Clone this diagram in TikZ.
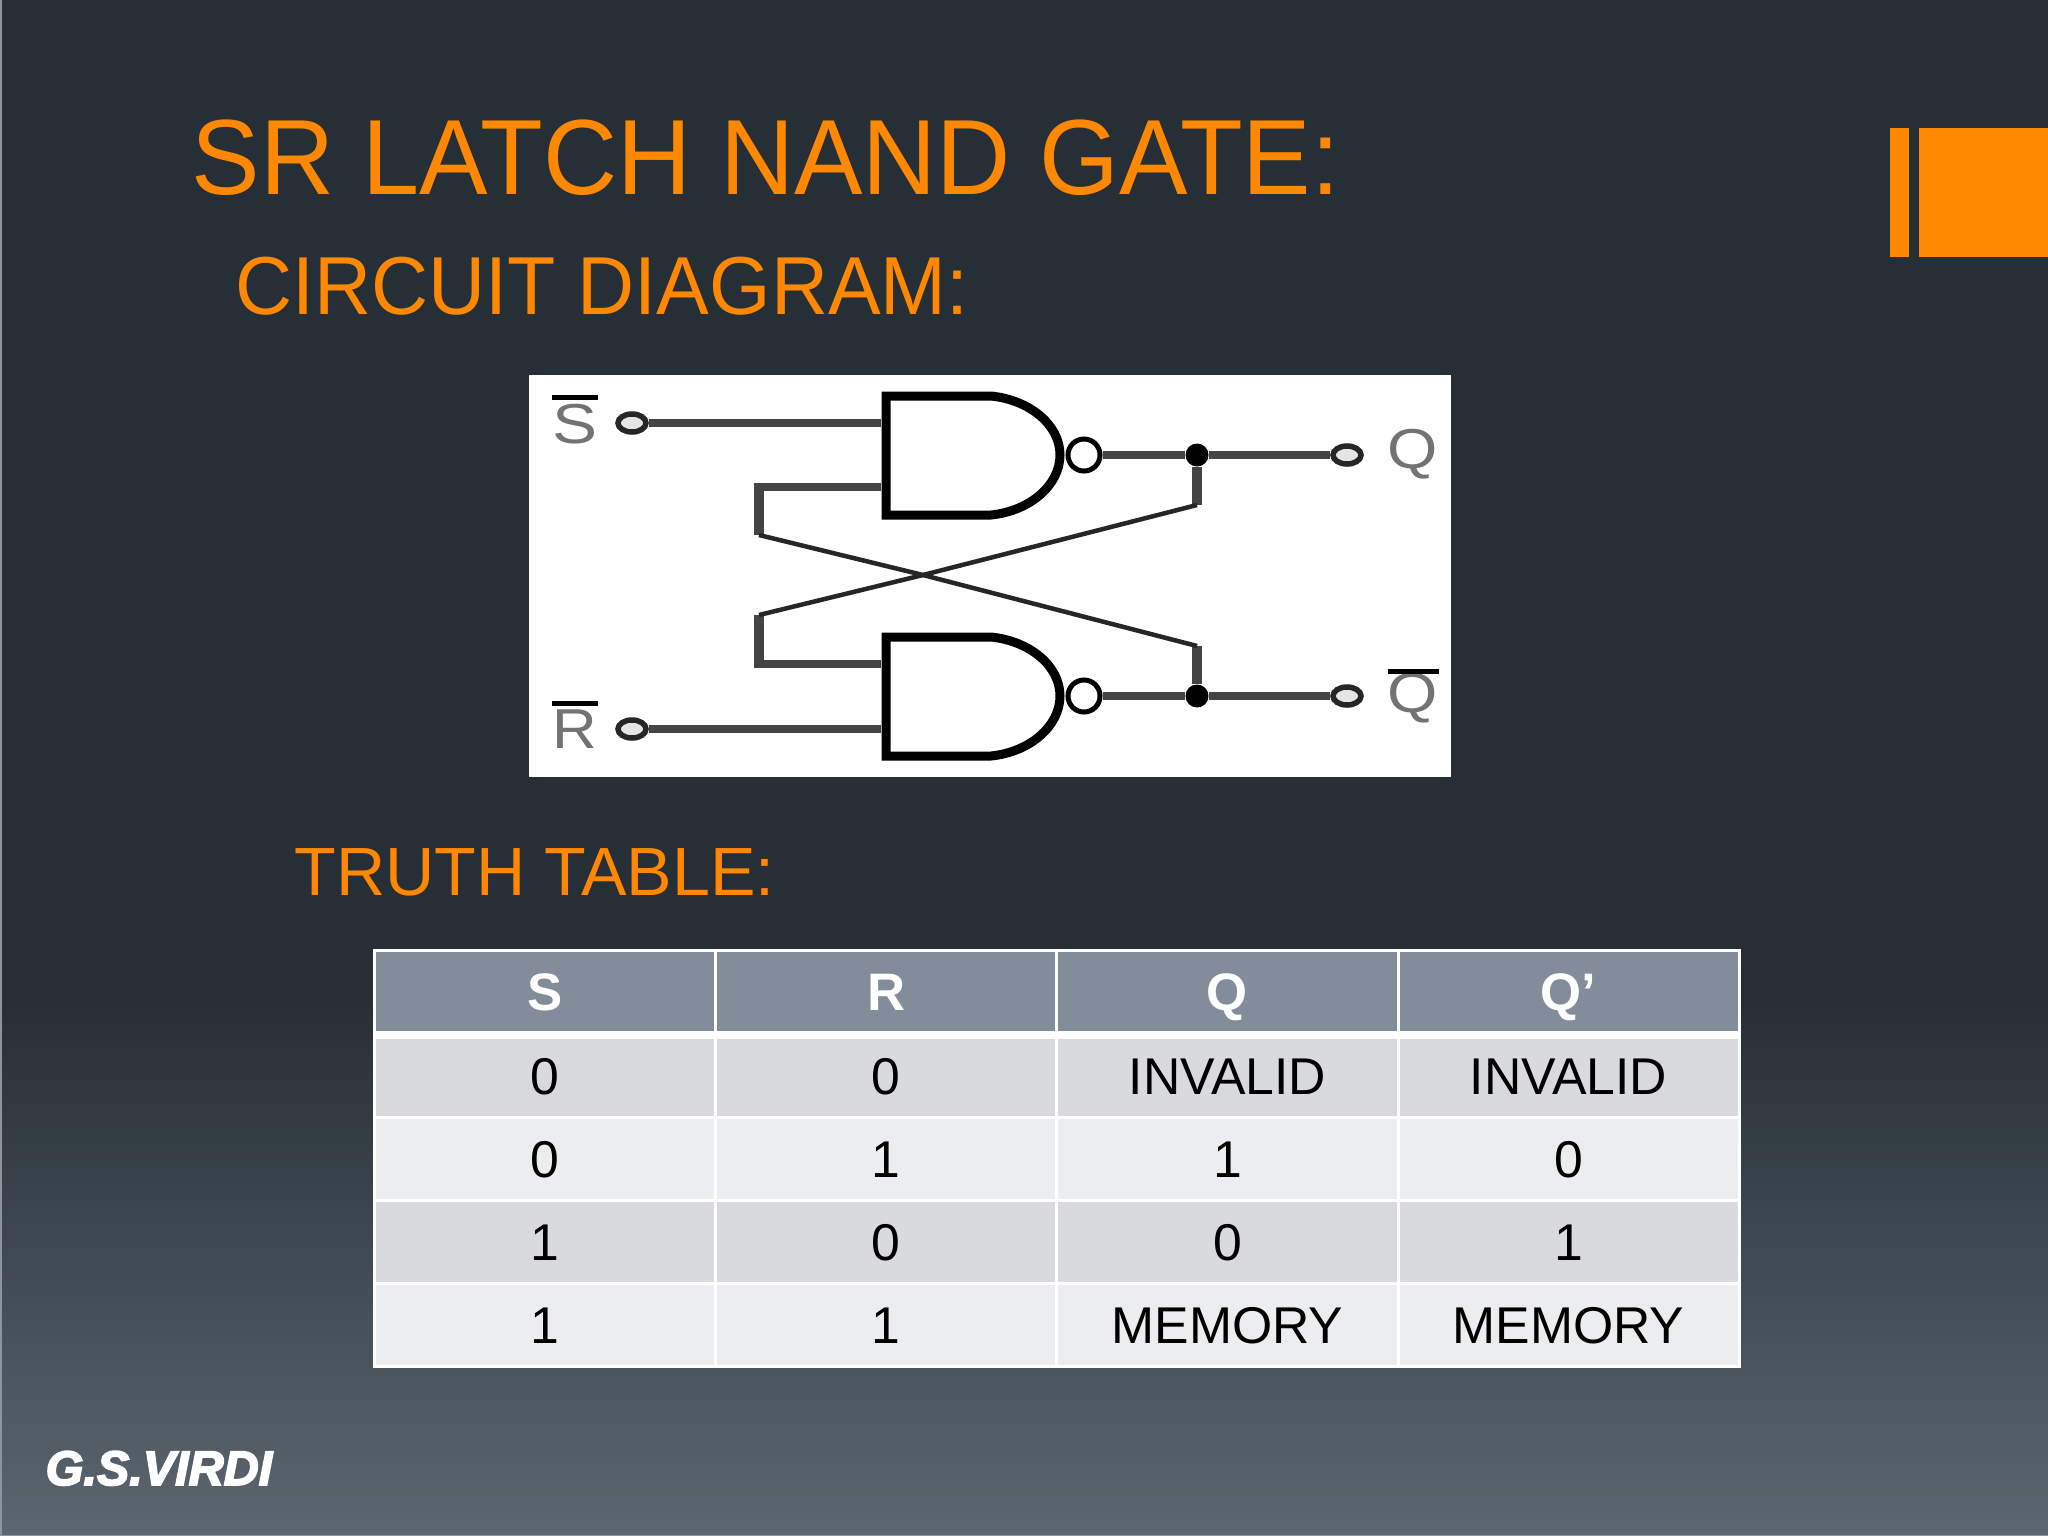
\documentclass[tikz,border=0pt]{standalone}
\usepackage{fontspec}
\setmainfont{Liberation Sans}
\newfontfamily\logofont[FakeBold=3.5]{Liberation Sans Bold Italic}
\usetikzlibrary{arrows,positioning,shapes.geometric}
\definecolor{slidetop}{RGB}{38,47,53}
\definecolor{slidebot}{RGB}{92,102,112}
\definecolor{titleorange}{RGB}{255,136,0}
\definecolor{headfill}{RGB}{130,140,154}
\definecolor{darkrow}{RGB}{217,218,221}
\definecolor{lightrow}{RGB}{236,237,239}
\definecolor{wiregray}{RGB}{68,68,68}
\pgfdeclareverticalshading{slidebg}{100bp}{color(0bp)=(slidebot); color(25bp)=(slidebot); color(42.5bp)=(slidetop); color(75bp)=(slidetop); color(100bp)=(slidetop)}
\begin{document}
\begin{tikzpicture}[x=0.01cm,y=-0.01cm,node distance=3.41cm]
		\tikzstyle{title text}=[anchor=base west, inner sep=0pt, text=titleorange]
		\tikzstyle{gate}=[line width=0.09cm, draw=black, fill=white, line join=miter]
		\tikzstyle{wire}=[line width=0.08cm, draw=wiregray]
		\tikzstyle{riser}=[line width=0.095cm, draw=wiregray]
		\tikzstyle{cross wire}=[line width=0.045cm, draw=black!85]
		\tikzstyle{bubble}=[circle, line width=0.05cm, draw=black, fill=white, minimum size=0.32cm, inner sep=0pt]
		\tikzstyle{terminal}=[ellipse, line width=0.055cm, draw=black!85, fill=black!10, minimum width=0.28cm, minimum height=0.18cm, inner sep=0pt]
		\tikzstyle{junction}=[circle, fill=black, minimum size=0.23cm, inner sep=0pt]
		\tikzstyle{pin label}=[inner sep=0pt, text=black!55, font=\fontsize{16pt}{18pt}\selectfont]
		\tikzstyle{pin bar}=[line width=0.05cm, draw=black]
		\tikzstyle{cell}=[rectangle, draw=white, line width=0.03cm, minimum width=3.41cm, minimum height=0.83cm, inner sep=0pt, text height=0.37cm, text depth=0cm, font=\fontsize{14.7pt}{17pt}\selectfont, text=black]
		\tikzstyle{head cell}=[cell, fill=headfill, text=white, font=\bfseries\fontsize{15pt}{17pt}\selectfont]
		\tikzstyle{dark cell}=[cell, fill=darkrow]
		\tikzstyle{light cell}=[cell, fill=lightrow]

		\useasboundingbox (0,0) rectangle (2048,1536);
		\shade [shading=slidebg] (0,0) rectangle (2048,1536);
		\draw [line width=0.03cm, draw=slidebot!70!white] (0,0) -- (0,1536) -- (2048,1536);
		\fill [titleorange] (1890,128) rectangle (1909,257);
		\fill [titleorange] (1919,128) rectangle (2048,257);

		\node [title text, font=\fontsize{30.4pt}{33pt}\selectfont] (title) at (191,194) {\scalebox{0.96}[1]{SR LATCH NAND GATE:}};
		\node [title text, font=\fontsize{23.4pt}{26pt}\selectfont] (circuit) at (235,314) {\scalebox{0.96}[1]{CIRCUIT DIAGRAM:}};
		\node [title text, font=\fontsize{19.4pt}{22pt}\selectfont] (truth) at (294,895) {TRUTH TABLE:};
		\node [anchor=base west, inner sep=0pt, text=white, font=\logofont\fontsize{13.8pt}{15pt}\selectfont] (logo) at (45,1485) {G.S.VIRDI};

		% circuit
		\fill [white] (529,375) rectangle (1451,777);
		\draw [gate] (886,396) -- (991,396) .. controls (1030,400) and (1060,425) .. (1060,455) .. controls (1060,485) and (1030,511) .. (991,515) -- (886,515) -- cycle;
		\draw [gate] (886,637) -- (991,637) .. controls (1030,641) and (1060,666) .. (1060,696) .. controls (1060,726) and (1030,752) .. (991,756) -- (886,756) -- cycle;

		\node [pin label] (s) at (575,424) {\scalebox{1.2}[1]{S}};
		\node [pin label] (r) at (575,729) {\scalebox{1.1}[1]{R}};
		\node [pin label] (q) at (1413,454) {\scalebox{1.15}[1]{Q}};
		\node [pin label] (qbar) at (1413,698) {\scalebox{1.15}[1]{Q}};
		\draw [pin bar] (552,397) -- (598,397);
		\draw [pin bar] (552,703) -- (598,703);
		\draw [pin bar] (1388,671) -- (1439,671);

		\node [terminal] (sin) at (632,423) {};
		\node [terminal] (rin) at (632,729) {};
		\node [terminal] (qout) at (1347,455) {};
		\node [terminal] (qbarout) at (1347,696) {};
		\node [junction] (j1) at (1197,455) {};
		\node [junction] (j2) at (1197,696) {};
		\node [bubble] (o1) at (1084,455) {};
		\node [bubble] (o2) at (1084,696) {};
		\coordinate (g1a) at (881,423);
		\coordinate (g1b) at (881,487);
		\coordinate (g2a) at (881,664);
		\coordinate (g2b) at (881,729);
		\coordinate (l1) at (759,487);
		\coordinate (l2) at (759,535);
		\coordinate (l3) at (759,615);
		\coordinate (l4) at (759,664);
		\coordinate (r1) at (1197,505);
		\coordinate (r2) at (1197,646);
		\coordinate (x1) at (923,575);

		\draw [wire] (sin) -- (g1a);
		\draw [wire] (rin) -- (g2b);
		\draw [wire] (o1) -- (j1);
		\draw [wire] (j1) -- (qout);
		\draw [wire] (o2) -- (j2);
		\draw [wire] (j2) -- (qbarout);
		\draw [riser] (j1) -- (r1);
		\draw [riser] (j2) -- (r2);
		\draw [wire] (g1b) -- (l1);
		\draw [wire] (g2a) -- (l4);
		\draw [riser, shorten <=-0.04cm] (l1) -- (l2);
		\draw [riser, shorten <=-0.04cm] (l4) -- (l3);
		\draw [cross wire] (l2) -- (x1) -- (r2);
		\draw [cross wire] (l3) -- (x1) -- (r1);

		% truth table
		\node [head cell] (h1) at (545,992) {S};
		\node [head cell] (h2) [right of=h1] {R};
		\node [head cell] (h3) [right of=h2] {Q};
		\node [head cell] (h4) [right of=h3] {Q’};
		\node [dark cell] (a1) at (545,1076) {0};
		\node [dark cell] (a2) [right of=a1] {0};
		\node [dark cell] (a3) [right of=a2] {INVALID};
		\node [dark cell] (a4) [right of=a3] {INVALID};
		\node [light cell] (b1) at (545,1159) {0};
		\node [light cell] (b2) [right of=b1] {1};
		\node [light cell] (b3) [right of=b2] {1};
		\node [light cell] (b4) [right of=b3] {0};
		\node [dark cell] (c1) at (545,1242) {1};
		\node [dark cell] (c2) [right of=c1] {0};
		\node [dark cell] (c3) [right of=c2] {0};
		\node [dark cell] (c4) [right of=c3] {1};
		\node [light cell] (d1) at (545,1325) {1};
		\node [light cell] (d2) [right of=d1] {1};
		\node [light cell] (d3) [right of=d2] {MEMORY};
		\node [light cell] (d4) [right of=d3] {MEMORY};
		\draw [white, line width=0.08cm] (h1.south west) -- (h4.south east);
	\end{tikzpicture}
\end{document}
